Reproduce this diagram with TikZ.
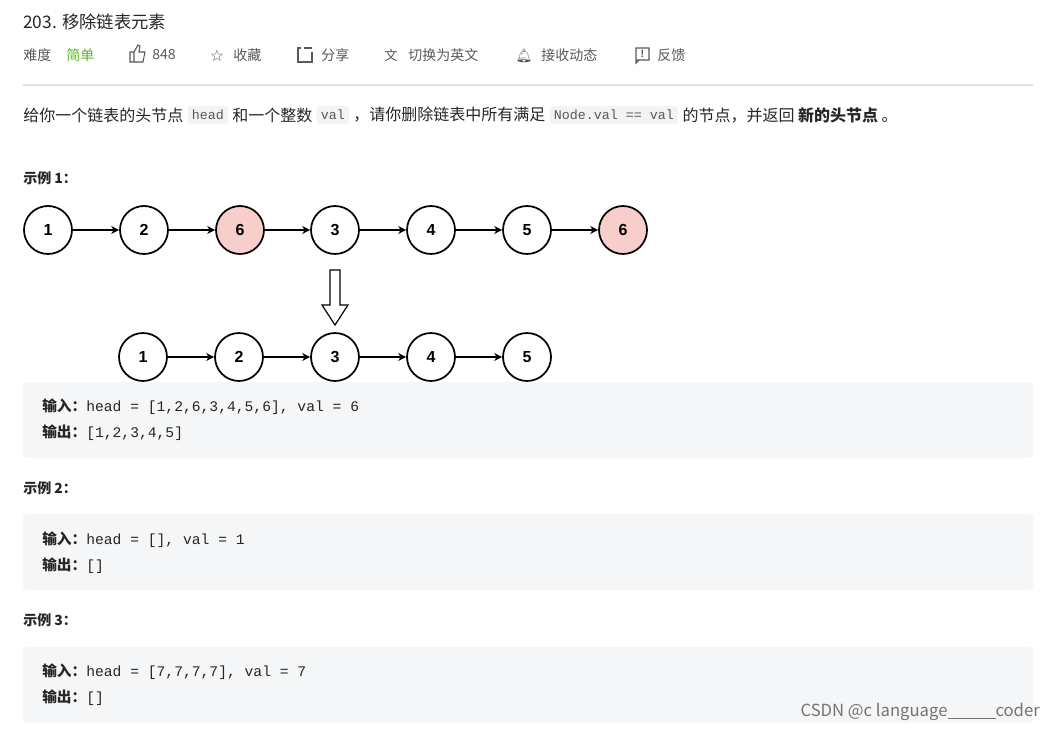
\documentclass[tikz,border=0pt]{standalone}
\usepackage{fontspec}
\usetikzlibrary{arrows.meta}
\setmainfont{Liberation Sans}
\newfontfamily\cjk{Noto Sans CJK SC}
\newfontfamily\cmono{Liberation Mono}
\newfontfamily\djv{DejaVu Sans}
\newfontfamily\emo{Noto Emoji}
\definecolor{txt}{HTML}{262626}
\definecolor{gtxt}{HTML}{595959}
\definecolor{grn}{HTML}{5AB726}
\definecolor{codebg}{HTML}{F2F3F5}
\definecolor{boxbg}{HTML}{F5F6F7}
\definecolor{pinkf}{HTML}{F8CECC}
\tikzset{
 ln/.style={circle,draw=black,line width=1.3pt,minimum size=36pt,inner sep=0pt,font=\bfseries\fontsize{12}{12}\selectfont},
 red/.style={ln,fill=pinkf},
 ar/.style={-{Stealth[length=6pt,width=6pt]},line width=0.9pt},
 tb/.style={anchor=west,font=\cjk\fontsize{10.5}{12}\selectfont,text=gtxt,inner sep=0pt},
 ic/.style={draw=gtxt,line width=0.8pt},
 code/.style={fill=codebg,rounded corners=2pt,inner sep=3pt,font=\cmono\fontsize{10}{11}\selectfont,text=gtxt,anchor=west},
 body/.style={anchor=west,inner sep=0pt,font=\cjk\fontsize{12}{13}\selectfont,text=txt},
 ex/.style={anchor=west,inner sep=0pt,font=\cjk\bfseries\fontsize{10.5}{12}\selectfont,text=txt},
 gbox/.style={fill=boxbg,draw=none,rounded corners=3pt},
 io/.style={anchor=west,inner sep=0pt,font=\cmono\fontsize{11}{12}\selectfont,text=txt}
}
\begin{document}
\begin{tikzpicture}[x=0.75pt,y=-0.75pt]
\useasboundingbox[fill=white] (0,0) rectangle (1056,731);
\node[anchor=west,inner sep=0pt,font=\cjk\fontsize{13}{14}\selectfont,text=txt] (title) at (23,22) {203. 移除链表元素};
\node[tb] (d1) at (23,55) {难度};
\node[tb,text=grn] (d2) at (66,55) {简单};
\draw[ic] (130,62) rectangle (134,52) (134,52) -- (138,45) -- (140,46) -- (139,52) -- (145,52) -- (143,62) -- (134,62);
\node[tb] (t1) at (152,55) {848};
\node[text=gtxt,inner sep=0pt,font=\djv\fontsize{12}{12}\selectfont] (i2) at (217,56) {☆};
\node[tb] (t2) at (233,55) {收藏};
\draw[ic] (301,48) -- (298,48) -- (298,62) -- (312,62) -- (312,52) (304,48)--(312,48);
\node[tb] (t3) at (321,55) {分享};
\node[text=gtxt,inner sep=0pt,font=\cjk\fontsize{10}{10}\selectfont] (i4) at (391,55) {文};
\node[tb] (t4) at (408,55) {切换为英文};
\node[text=gtxt,inner sep=0pt,font=\emo\fontsize{10}{10}\selectfont] (i5) at (524,56) {🔔};
\node[tb] (t5) at (541,55) {接收动态};
\draw[ic] (636,48) rectangle (649,60) (636,60) -- (636,63) -- (639,60);
\node[text=gtxt,inner sep=0pt,font=\bfseries\fontsize{8}{8}\selectfont] (i6) at (642.5,54) {!};
\node[tb] (t6) at (657,55) {反馈};
\draw[draw=black!12,line width=0.8pt] (23,85) -- (1033,85);
% description
\node[body] (b1) at (23,115) {给你一个链表的头节点};
\node[code] (c1) at ([xshift=3pt]b1.east) {head};
\node[body] (b2) at ([xshift=3pt]c1.east) {和一个整数};
\node[code] (c2) at ([xshift=3pt]b2.east) {val};
\node[body] (b3) at ([xshift=3pt]c2.east) {，请你删除链表中所有满足};
\node[code] (c3) at ([xshift=3pt]b3.east) {Node.val == val};
\node[body] (b4) at ([xshift=3pt]c3.east) {的节点，并返回 \textbf{新的头节点} 。};
\node[ex] (e1) at (23,178) {示例 1：};
% list 1
\foreach \n/\x/\v/\s in {a1/48/1/ln,a2/144/2/ln,a3/240/6/red,a4/335/3/ln,a5/431/4/ln,a6/527/5/ln,a7/623/6/red}
  \node[\s] (\n) at (\x,230) {\v};
\foreach \p/\q in {a1/a2,a2/a3,a3/a4,a4/a5,a5/a6,a6/a7} \draw[ar] (\p) -- (\q);
\foreach \n/\x/\v in {b1n/143/1,b2n/239/2,b3n/335/3,b4n/431/4,b5n/527/5}
  \node[ln] (\n) at (\x,357) {\v};
\foreach \p/\q in {b1n/b2n,b2n/b3n,b3n/b4n,b4n/b5n} \draw[ar] (\p) -- (\q);
\draw[line width=0.9pt,fill=white] (330,270) -- (340,270) -- (340,305) -- (348,305) -- (335,325) -- (322,305) -- (330,305) -- cycle;
% boxes
\fill[gbox] (23,382) rectangle (1033,458);
\node[io] (o1) at (42,407) {{\cjk\bfseries 输入：}head = [1,2,6,3,4,5,6], val = 6};
\node[io] (o2) at (42,433) {{\cjk\bfseries 输出：}[1,2,3,4,5]};
\node[ex] (e2) at (23,488) {示例 2：};
\fill[gbox] (23,514) rectangle (1033,590);
\node[io] (o3) at (42,540) {{\cjk\bfseries 输入：}head = [], val = 1};
\node[io] (o4) at (42,566) {{\cjk\bfseries 输出：}[]};
\node[ex] (e3) at (23,620) {示例 3：};
\fill[gbox] (23,647) rectangle (1033,723);
\node[io] (o5) at (42,672) {{\cjk\bfseries 输入：}head = [7,7,7,7], val = 7};
\node[io] (o6) at (42,698) {{\cjk\bfseries 输出：}[]};
\node[anchor=east,inner sep=0pt,font=\cjk\fontsize{12.5}{12}\selectfont,text=black!55] (wm) at (1040,712) {CSDN @c language\rule[-1.5pt]{36pt}{0.6pt}coder};
\end{tikzpicture}
\end{document}
